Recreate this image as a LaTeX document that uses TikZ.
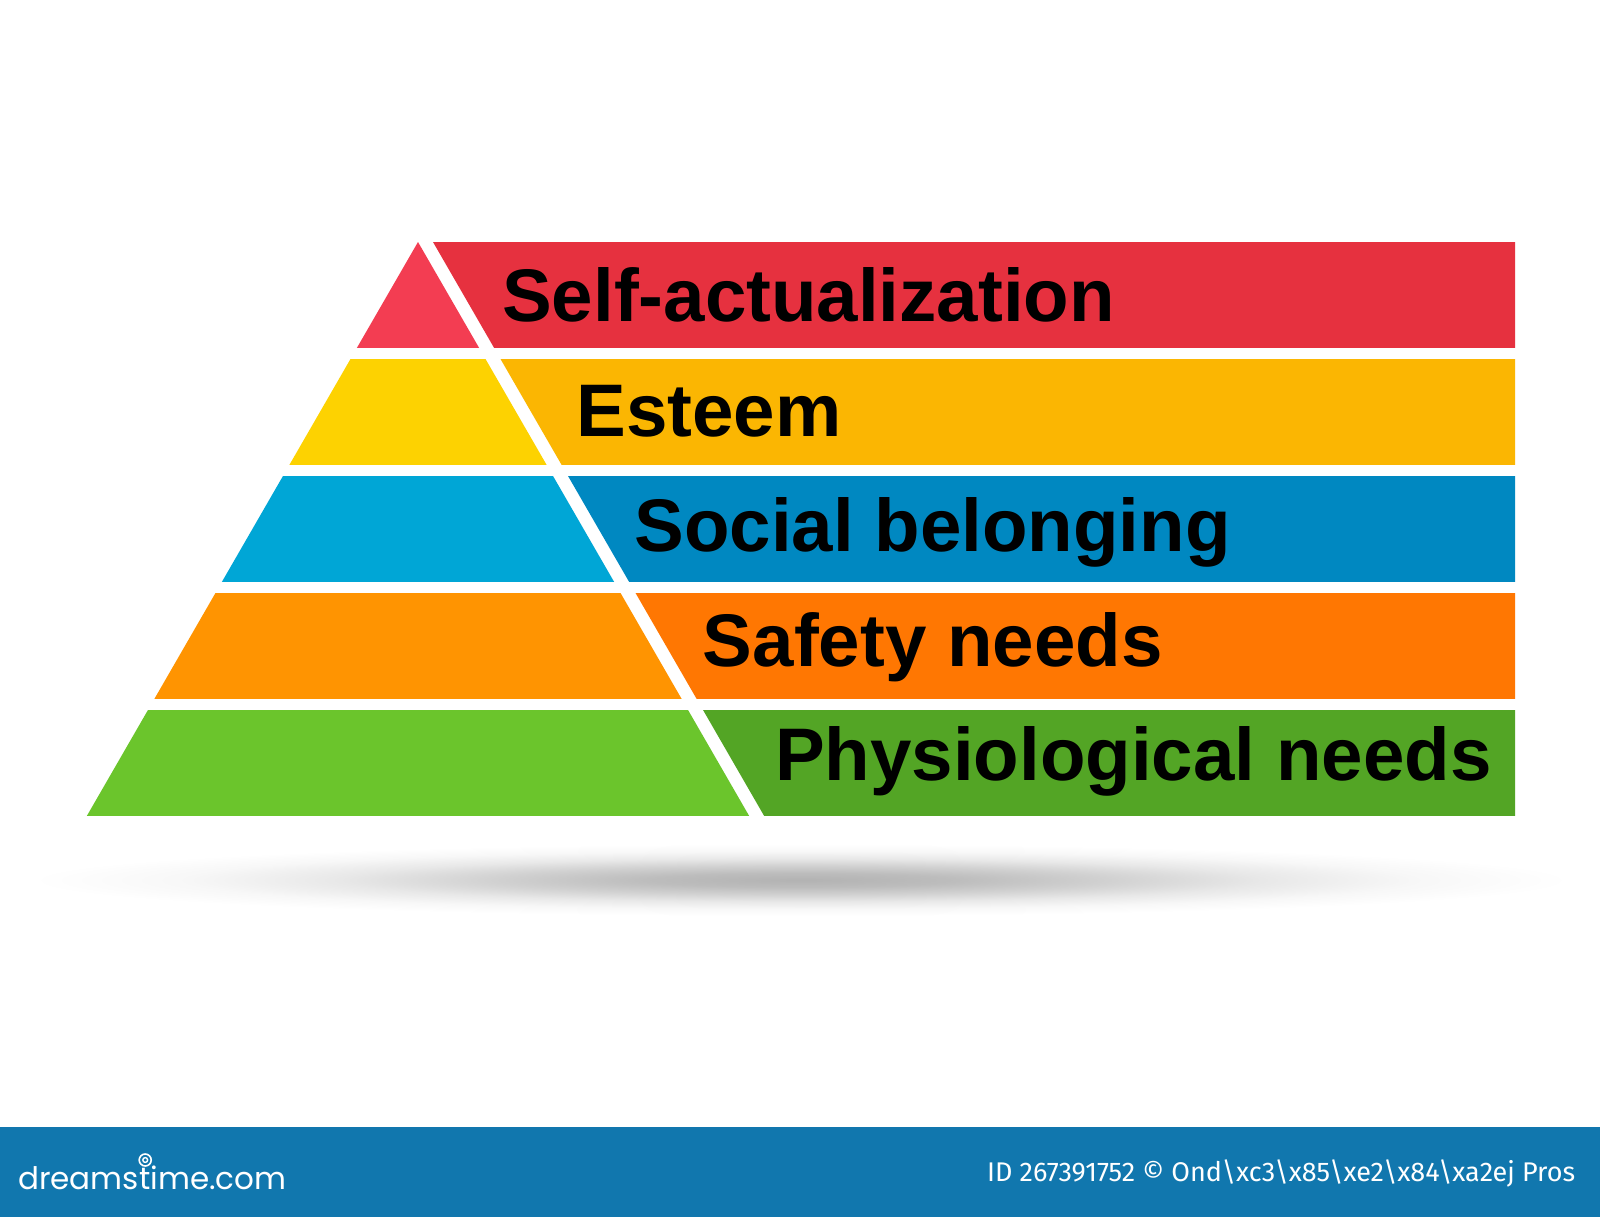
\documentclass[tikz,border=0pt]{standalone}
\usepackage{fontspec}
\setmainfont{Liberation Sans}
\newfontfamily\logofont{Poppins}
\newfontfamily\idfont{Fira Sans}
\usetikzlibrary{calc}
\definecolor{redL}{HTML}{F33D52}
\definecolor{redR}{HTML}{E6313F}
\definecolor{yelL}{HTML}{FDD201}
\definecolor{yelR}{HTML}{FBB602}
\definecolor{bluL}{HTML}{00A6D6}
\definecolor{bluR}{HTML}{0088C1}
\definecolor{oraL}{HTML}{FF9401}
\definecolor{oraR}{HTML}{FF7702}
\definecolor{grnL}{HTML}{6BC52C}
\definecolor{grnR}{HTML}{53A525}
\definecolor{footer}{HTML}{1177AE}
\pgfdeclareradialshading{softshadow}{\pgfpoint{0bp}{0bp}}{color(0bp)=(black!30); color(5bp)=(black!26); color(10bp)=(black!18); color(15bp)=(black!9); color(20bp)=(black!3); color(25bp)=(white); color(50bp)=(white)}
\begin{document}
\begin{tikzpicture}[x=1pt,y=-1pt,
  lvl/.style={anchor=base west, inner sep=0pt, text=black, font=\fontsize{74.5}{80}\selectfont\bfseries},
  foot/.style={anchor=base west, inner sep=0pt, text=white}]
\useasboundingbox (0,0) rectangle (1600,1217);
\fill[white] (0,0) rectangle (1600,1217);
% shadow
\shade[shading=softshadow] (801,880) ellipse (770 and 36);
% pyramid bands
\foreach \i/\cl/\cr in {0/redL/redR,1/yelL/yelR,2/bluL/bluR,3/oraL/oraR,4/grnL/grnR}{
  \pgfmathsetmacro\yT{242+117*\i}
  \pgfmathsetmacro\yB{\yT+105.8}
  \pgfmathsetmacro\xlt{418-0.577*(\yT-242)}
  \pgfmathsetmacro\xrt{418+0.577*(\yT-242)}
  \pgfmathsetmacro\xlb{418-0.577*(\yB-242)}
  \pgfmathsetmacro\xrb{418+0.577*(\yB-242)}
  \fill[\cl] (\xlt,\yT) -- (\xrt,\yT) -- (\xrb,\yB) -- (\xlb,\yB) -- cycle;
  \fill[\cr] (\xrt+15,\yT) -- (1515,\yT) -- (1515,\yB) -- (\xrb+15,\yB) -- cycle;
}
% labels
\node[lvl] (self) at (502,321.7) {Self-actualization};
\node[lvl] (esteem) at (576.3,436.7) {Esteem};
\node[lvl] (social) at (634.3,551.7) {Social belonging};
\node[lvl] (safety) at (702.7,666) {Safety needs};
\node[lvl] (physio) at (775,780) {Physiological needs};
% footer
\fill[footer] (0,1127) rectangle (1600,1217);
\node[foot, font=\logofont\fontsize{31}{31}\selectfont] (logoA) at (18,1189) {dreams};
\node[foot, font=\logofont\fontsize{31}{31}\selectfont] (logoB) at (logoA.base east) {time.com};
\coordinate (spiral) at ($(logoB.base west)+(6,-29)$);
\draw[white, line width=1.6] (spiral) circle (6);
\draw[white, line width=1.4] (spiral) circle (2.4);
\node[foot, font=\idfont\fontsize{27}{27}\selectfont] (id) at (987,1181.5) {ID 267391752 © Ond\textbackslash xc3\textbackslash x85\textbackslash xe2\textbackslash x84\textbackslash xa2ej Pros};
\end{tikzpicture}
\end{document}
